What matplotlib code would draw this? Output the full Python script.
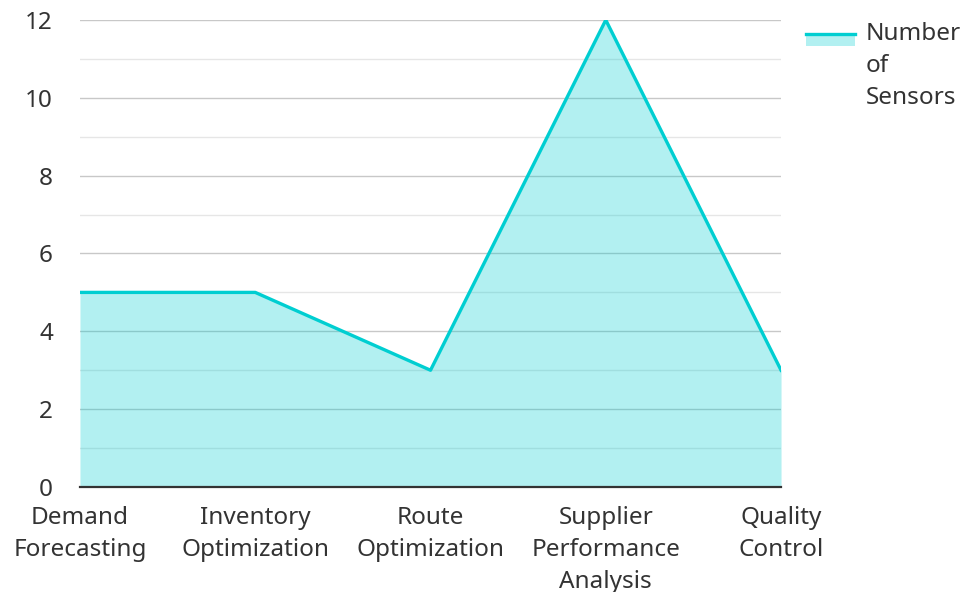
import matplotlib
matplotlib.use('Agg')
import matplotlib.pyplot as plt
from matplotlib.patches import Rectangle
from matplotlib.lines import Line2D
from matplotlib.legend_handler import HandlerBase

plt.rcParams['font.family'] = ['Noto Sans', 'DejaVu Sans']

# 数据
categories = ['Demand\nForecasting', 'Inventory\nOptimization', 'Route\nOptimization',
              'Supplier\nPerformance\nAnalysis', 'Quality\nControl']
sensors = [5, 5, 3, 12, 3]
series_label = 'Number\nof\nSensors'

LINE_C = '#00CED1'
TEXT_C = '#333333'
FS = 17.5


class AreaHandler(HandlerBase):
    # 图例：浅色块 + 顶部粗线，对齐第一行文字
    def create_artists(self, legend, orig_handle, xdescent, ydescent,
                       width, height, fontsize, trans):
        h = height * 0.8
        y0 = -ydescent + height * 0.5 - h / 2 + fontsize * 1.1
        rect = Rectangle((-xdescent, y0), width, h,
                         facecolor=LINE_C, alpha=0.3, edgecolor='none', transform=trans)
        line = Line2D([-xdescent, -xdescent + width], [y0 + h] * 2,
                      color=LINE_C, linewidth=2.4, transform=trans)
        return [rect, line]


fig = plt.figure(figsize=(9.67, 5.92), dpi=100)
ax = fig.add_axes([0.0827, 0.1774, 0.725, 0.7888])

x = list(range(len(categories)))
ax.fill_between(x, sensors, 0, color=LINE_C, alpha=0.3, linewidth=0, zorder=2)
ax.plot(x, sensors, color=LINE_C, linewidth=2.4, zorder=3)

ax.set_xlim(0, len(categories) - 1)
ax.set_ylim(0, 12)
ax.set_yticks(range(0, 13, 2))
ax.set_yticks(range(1, 13, 2), minor=True)
ax.set_xticks(x)
ax.set_xticklabels(categories, linespacing=1.42)

ax.grid(True, which='major', axis='y', color='#c8c8c8', linewidth=1.0, zorder=1)
ax.grid(True, which='minor', axis='y', color='#e6e6e6', linewidth=1.0, zorder=1)
ax.set_axisbelow(True)

for s in ['top', 'right', 'left']:
    ax.spines[s].set_visible(False)
ax.spines['bottom'].set_color('#333333')
ax.spines['bottom'].set_linewidth(1.6)
ax.spines['bottom'].set_zorder(4)

ax.tick_params(axis='y', which='both', length=0, pad=19.5, labelsize=FS, labelcolor=TEXT_C)
ax.tick_params(axis='x', which='both', length=0, pad=14, labelsize=FS, labelcolor=TEXT_C)

proxy = Rectangle((0, 0), 1, 1)
leg = ax.legend([proxy], [series_label], handler_map={Rectangle: AreaHandler()},
                loc='upper left', bbox_to_anchor=(0.834, 0.962), bbox_transform=fig.transFigure,
                frameon=False, fontsize=FS, labelcolor=TEXT_C, handlelength=2.0,
                handleheight=0.55, handletextpad=0.45, borderaxespad=0, borderpad=0)
for t in leg.get_texts():
    t.set_linespacing(1.42)

fig.savefig('out.png', dpi=100)
